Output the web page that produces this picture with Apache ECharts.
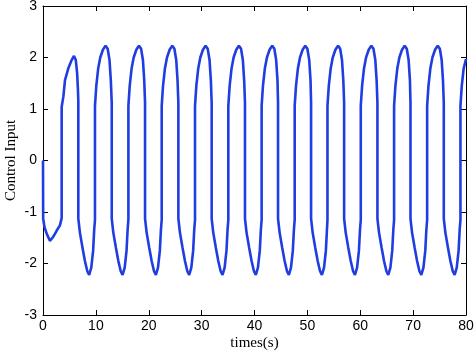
<!DOCTYPE html>
<html>
<head>
<meta charset="utf-8">
<script src="https://cdn.jsdelivr.net/npm/echarts@6/dist/echarts.min.js"></script>
<style>
html,body{margin:0;padding:0;background:#fff;}
#chart{width:474px;height:357px;}
</style>
</head>
<body>
<div id="chart"></div>
<script>
// time (s) of each sample, one row per half-cycle
var timeS = [
  0, 0.03, 0.3, 0.7, 1.3, 1.95, 2.6, 3.2, 3.53,
  3.53, 3.85, 4.16, 4.79, 5.42, 5.86, 6.2, 6.45, 6.6, 6.68,
  6.68, 6.98, 7.48, 7.93, 8.38, 8.73, 9.13, 9.48, 9.68, 9.83,
  9.83, 10.08, 10.43, 10.83, 11.33, 11.83, 12.23, 12.58, 12.83, 13.0,
  13.0, 13.3, 13.8, 14.25, 14.7, 15.05, 15.45, 15.8, 16.0, 16.15,
  16.15, 16.4, 16.75, 17.15, 17.65, 18.15, 18.55, 18.9, 19.15, 19.3,
  19.3, 19.6, 20.1, 20.55, 21.0, 21.35, 21.75, 22.1, 22.3, 22.45,
  22.45, 22.7, 23.05, 23.45, 23.95, 24.45, 24.85, 25.2, 25.45, 25.6,
  25.6, 25.9, 26.4, 26.85, 27.3, 27.65, 28.05, 28.4, 28.6, 28.75,
  28.75, 29.0, 29.35, 29.75, 30.25, 30.75, 31.15, 31.5, 31.75, 31.9,
  31.9, 32.2, 32.7, 33.15, 33.6, 33.95, 34.35, 34.7, 34.9, 35.05,
  35.05, 35.3, 35.65, 36.05, 36.55, 37.05, 37.45, 37.8, 38.05, 38.2,
  38.2, 38.5, 39.0, 39.45, 39.9, 40.25, 40.65, 41.0, 41.2, 41.35,
  41.35, 41.6, 41.95, 42.35, 42.85, 43.35, 43.75, 44.1, 44.35, 44.45,
  44.45, 44.75, 45.25, 45.7, 46.15, 46.5, 46.9, 47.25, 47.45, 47.6,
  47.6, 47.85, 48.2, 48.6, 49.1, 49.6, 50.0, 50.35, 50.6, 50.7,
  50.7, 51.0, 51.5, 51.95, 52.4, 52.75, 53.15, 53.5, 53.7, 53.8,
  53.8, 54.05, 54.4, 54.8, 55.3, 55.8, 56.2, 56.55, 56.8, 56.95,
  56.95, 57.25, 57.75, 58.2, 58.65, 59.0, 59.4, 59.75, 59.95, 60.1,
  60.1, 60.35, 60.7, 61.1, 61.6, 62.1, 62.5, 62.85, 63.1, 63.25,
  63.25, 63.55, 64.05, 64.5, 64.95, 65.3, 65.7, 66.05, 66.25, 66.4,
  66.4, 66.65, 67.0, 67.4, 67.9, 68.4, 68.8, 69.15, 69.4, 69.5,
  69.5, 69.8, 70.3, 70.75, 71.2, 71.55, 71.95, 72.3, 72.5, 72.65,
  72.65, 72.9, 73.25, 73.65, 74.15, 74.65, 75.05, 75.4, 75.65, 75.8,
  75.8, 76.1, 76.6, 77.05, 77.5, 77.85, 78.25, 78.6, 78.8, 78.95,
  78.95, 79.2, 79.55, 80.0
];
// control input value of each sample
var controlInput = [
  0, -1.13, -1.3, -1.42, -1.56, -1.48, -1.36, -1.26, -1.12,
  1.04, 1.24, 1.56, 1.79, 1.95, 2.03, 1.95, 1.7, 1.4, 1.15,
  -1.13, -1.4, -1.7, -1.95, -2.15, -2.22, -2.08, -1.75, -1.35, -1.15,
  1.06, 1.45, 1.78, 2.0, 2.15, 2.23, 2.17, 1.95, 1.55, 1.12,
  -1.13, -1.4, -1.7, -1.95, -2.15, -2.22, -2.08, -1.75, -1.35, -1.15,
  1.06, 1.45, 1.78, 2.0, 2.15, 2.23, 2.17, 1.95, 1.55, 1.12,
  -1.13, -1.4, -1.7, -1.95, -2.15, -2.22, -2.08, -1.75, -1.35, -1.15,
  1.06, 1.45, 1.78, 2.0, 2.15, 2.23, 2.17, 1.95, 1.55, 1.12,
  -1.13, -1.4, -1.7, -1.95, -2.15, -2.22, -2.08, -1.75, -1.35, -1.15,
  1.06, 1.45, 1.78, 2.0, 2.15, 2.23, 2.17, 1.95, 1.55, 1.12,
  -1.13, -1.4, -1.7, -1.95, -2.15, -2.22, -2.08, -1.75, -1.35, -1.15,
  1.06, 1.45, 1.78, 2.0, 2.15, 2.23, 2.17, 1.95, 1.55, 1.12,
  -1.13, -1.4, -1.7, -1.95, -2.15, -2.22, -2.08, -1.75, -1.35, -1.15,
  1.06, 1.45, 1.78, 2.0, 2.15, 2.23, 2.17, 1.95, 1.55, 1.12,
  -1.13, -1.4, -1.7, -1.95, -2.15, -2.22, -2.08, -1.75, -1.35, -1.15,
  1.06, 1.45, 1.78, 2.0, 2.15, 2.23, 2.17, 1.95, 1.55, 1.12,
  -1.13, -1.4, -1.7, -1.95, -2.15, -2.22, -2.08, -1.75, -1.35, -1.15,
  1.06, 1.45, 1.78, 2.0, 2.15, 2.23, 2.17, 1.95, 1.55, 1.12,
  -1.13, -1.4, -1.7, -1.95, -2.15, -2.22, -2.08, -1.75, -1.35, -1.15,
  1.06, 1.45, 1.78, 2.0, 2.15, 2.23, 2.17, 1.95, 1.55, 1.12,
  -1.13, -1.4, -1.7, -1.95, -2.15, -2.22, -2.08, -1.75, -1.35, -1.15,
  1.06, 1.45, 1.78, 2.0, 2.15, 2.23, 2.17, 1.95, 1.55, 1.12,
  -1.13, -1.4, -1.7, -1.95, -2.15, -2.22, -2.08, -1.75, -1.35, -1.15,
  1.06, 1.45, 1.78, 2.0, 2.15, 2.23, 2.17, 1.95, 1.55, 1.12,
  -1.13, -1.4, -1.7, -1.95, -2.15, -2.22, -2.08, -1.75, -1.35, -1.15,
  1.06, 1.45, 1.78, 1.97
];
var xTicks = [0, 10, 20, 30, 40, 50, 60, 70, 80];
var yTicks = [-3, -2, -1, 0, 1, 2, 3];

var xAxisTitle = 'times(s)';
var yAxisTitle = 'Control Input';

var chart = echarts.init(document.getElementById('chart'), null, {renderer: 'canvas'});
var points = timeS.map(function (t, i) { return [t, controlInput[i]]; });

var tickFont = {color: '#000', fontFamily: 'Liberation Sans, Arial, sans-serif', fontSize: 14};
var axLine = {show: true, onZero: false, lineStyle: {color: '#000', width: 1}};
var axTick = {show: true, inside: true, length: 5, lineStyle: {color: '#000', width: 1}};

chart.setOption({
  animation: false,
  backgroundColor: '#fff',
  grid: {left: 43, right: 8, top: 6, bottom: 42, containLabel: false, outerBoundsMode: 'none'},
  xAxis: [{
    type: 'value', min: xTicks[0], max: xTicks[xTicks.length - 1], interval: 10,
    position: 'bottom',
    axisLine: axLine, axisTick: axTick, splitLine: {show: false},
    axisLabel: Object.assign({margin: 4}, tickFont),
    name: xAxisTitle, nameLocation: 'middle', nameGap: 21, nameMoveOverlap: false,
    nameTextStyle: {color: '#000', fontFamily: 'Liberation Serif, Times New Roman, serif', fontSize: 15}
  }, {
    type: 'value', min: xTicks[0], max: xTicks[xTicks.length - 1], interval: 10,
    position: 'top',
    axisLine: axLine, axisTick: axTick, splitLine: {show: false},
    axisLabel: {show: false}
  }],
  yAxis: [{
    type: 'value', min: yTicks[0], max: yTicks[yTicks.length - 1], interval: 1,
    position: 'left',
    axisLine: axLine, axisTick: axTick, splitLine: {show: false},
    axisLabel: Object.assign({margin: 6}, tickFont),
    name: yAxisTitle, nameLocation: 'middle', nameGap: 24, nameMoveOverlap: false,
    nameTextStyle: {color: '#000', fontFamily: 'Liberation Serif, Times New Roman, serif', fontSize: 15}
  }, {
    type: 'value', min: yTicks[0], max: yTicks[yTicks.length - 1], interval: 1,
    position: 'right',
    axisLine: axLine, axisTick: axTick, splitLine: {show: false},
    axisLabel: {show: false}
  }],
  series: [{
    type: 'line',
    data: points,
    showSymbol: false,
    smooth: false,
    lineStyle: {color: '#1f3de0', width: 2.6},
    clip: true
  }]
});
</script>
</body>
</html>
